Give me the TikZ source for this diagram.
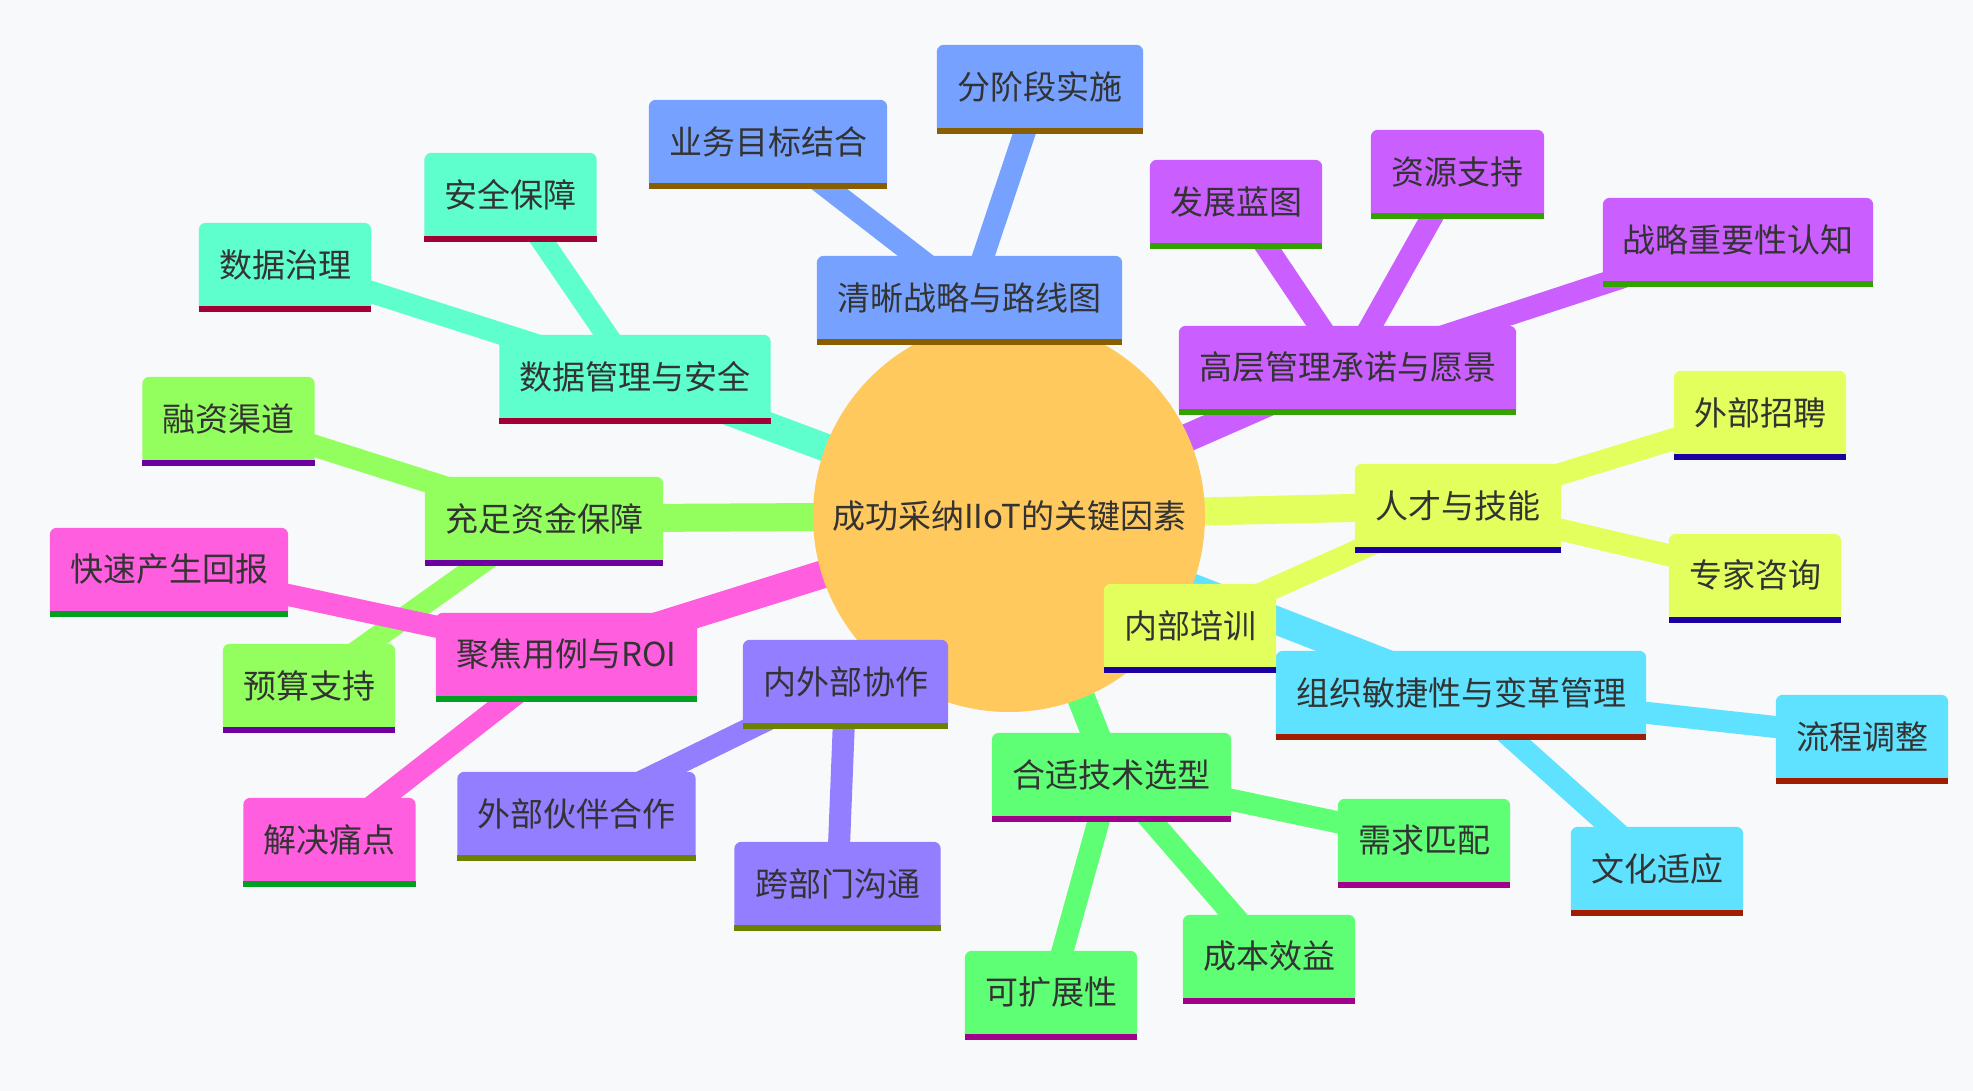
\documentclass[tikz,border=0pt]{standalone}
\usepackage{fontspec}
\setmainfont{Noto Sans CJK SC}
\usetikzlibrary{calc}
\definecolor{bgc}{HTML}{F8F9FA}
\definecolor{txt}{HTML}{333333}
\definecolor{rootF}{HTML}{FFC95E}
\definecolor{blueF}{HTML}{76A1FF}\definecolor{blueB}{HTML}{895E00}
\definecolor{purpF}{HTML}{CA5EFF}\definecolor{purpB}{HTML}{35A100}
\definecolor{yelF}{HTML}{E2FF5E}\definecolor{yelB}{HTML}{1D00A1}
\definecolor{cyanF}{HTML}{5EE2FF}\definecolor{cyanB}{HTML}{A11D00}
\definecolor{grnF}{HTML}{5EFF75}\definecolor{grnB}{HTML}{A1008A}
\definecolor{lavF}{HTML}{937EFF}\definecolor{lavB}{HTML}{6C8100}
\definecolor{pinkF}{HTML}{FF5EDF}\definecolor{pinkB}{HTML}{00A120}
\definecolor{limeF}{HTML}{93FF5E}\definecolor{limeB}{HTML}{6C00A1}
\definecolor{aquaF}{HTML}{5EFFCD}\definecolor{aquaB}{HTML}{A10032}
\pgfdeclarelayer{edgelayer}
\pgfdeclarelayer{boxlayer}
\pgfsetlayers{edgelayer,boxlayer,main}
\tikzset{
  mmtext/.style={rectangle, inner sep=0pt, minimum height=83pt, text=txt, font=\fontsize{33}{39}\selectfont},
  edgeA/.style={line width=28pt},
  edgeB/.style={line width=22pt},
}
\newcommand\mmNode[7]{%
  \node[mmtext, minimum width=#4pt] (#1) at (#2,#3+41.5) {#7};
  \begin{pgfonlayer}{boxlayer}
    \fill[#5] (#1.south west) [rounded corners=7pt] -- (#1.north west) -- (#1.north east) [sharp corners] -- (#1.south east) -- cycle;
    \fill[#6] (#1.south west) rectangle ([yshift=-6pt]#1.south east);
  \end{pgfonlayer}
}
\begin{document}
\begin{tikzpicture}[x=1pt,y=-1pt]
\useasboundingbox (0,0) rectangle (1973,1091);
\begin{pgfonlayer}{boxlayer}
\node[circle, fill=rootF, minimum size=392pt, inner sep=0pt, text=txt, font=\fontsize{33}{39}\selectfont] (root) at (1009,516) {成功采纳IIoT的关键因素};
\end{pgfonlayer}
% level 1
\mmNode{qx}{969.5}{256}{305}{blueF}{blueB}{清晰战略与路线图}
\mmNode{gc}{1347.5}{326}{337}{purpF}{purpB}{高层管理承诺与愿景}
\mmNode{rc}{1458}{464}{206}{yelF}{yelB}{人才与技能}
\mmNode{zz}{1461}{651}{370}{cyanF}{cyanB}{组织敏捷性与变革管理}
\mmNode{hs}{1111.5}{733}{239}{grnF}{grnB}{合适技术选型}
\mmNode{nw}{845.5}{640}{205}{lavF}{lavB}{内外部协作}
\mmNode{jj}{566.5}{613}{261}{pinkF}{pinkB}{聚焦用例与ROI}
\mmNode{cz}{544}{477}{238}{limeF}{limeB}{充足资金保障}
\mmNode{sj}{635}{335}{271}{aquaF}{aquaB}{数据管理与安全}
% level 2
\mmNode{yw}{768}{100}{238}{blueF}{blueB}{业务目标结合}
\mmNode{fj}{1040}{45}{206}{blueF}{blueB}{分阶段实施}
\mmNode{fz}{1236}{160}{172}{purpF}{purpB}{发展蓝图}
\mmNode{zy}{1457.5}{130}{173}{purpF}{purpB}{资源支持}
\mmNode{zl}{1738}{198}{270}{purpF}{purpB}{战略重要性认知}
\mmNode{wz}{1760}{371}{172}{yelF}{yelB}{外部招聘}
\mmNode{zj}{1755}{534}{172}{yelF}{yelB}{专家咨询}
\mmNode{nb}{1190}{584}{172}{yelF}{yelB}{内部培训}
\mmNode{lc}{1862}{695}{172}{cyanF}{cyanB}{流程调整}
\mmNode{wh}{1657}{827}{172}{cyanF}{cyanB}{文化适应}
\mmNode{xq}{1424}{799}{172}{grnF}{grnB}{需求匹配}
\mmNode{cb}{1269}{915}{172}{grnF}{grnB}{成本效益}
\mmNode{kk}{1051}{951}{172}{grnF}{grnB}{可扩展性}
\mmNode{wb}{576.5}{772}{238}{lavF}{lavB}{外部伙伴合作}
\mmNode{kb}{837.5}{842}{206}{lavF}{lavB}{跨部门沟通}
\mmNode{ks}{169}{528}{238}{pinkF}{pinkB}{快速产生回报}
\mmNode{jt}{329.5}{798}{172}{pinkF}{pinkB}{解决痛点}
\mmNode{ys}{309}{644}{172}{limeF}{limeB}{预算支持}
\mmNode{rq}{228.5}{377}{172}{limeF}{limeB}{融资渠道}
\mmNode{sz}{285}{223}{172}{aquaF}{aquaB}{数据治理}
\mmNode{aq}{510.5}{153}{172}{aquaF}{aquaB}{安全保障}
\begin{pgfonlayer}{edgelayer}
\fill[bgc] (0,0) rectangle (1973,1091);
% level 1 edges
\draw[edgeA, blueF] (root.center) -- (qx.center);
\draw[edgeA, purpF] (root.center) -- (gc.center);
\draw[edgeA, yelF] (root.center) -- (rc.center);
\draw[edgeA, cyanF] (root.center) -- (zz.center);
\draw[edgeA, grnF] (root.center) -- (hs.center);
\draw[edgeA, lavF] (root.center) -- (nw.center);
\draw[edgeA, pinkF] (root.center) -- (jj.center);
\draw[edgeA, limeF] (root.center) -- (cz.center);
\draw[edgeA, aquaF] (root.center) -- (sj.center);
% level 2 edges
\draw[edgeB, blueF] (qx.center) -- (yw.center);
\draw[edgeB, blueF] (qx.center) -- (fj.center);
\draw[edgeB, purpF] (gc.center) -- (fz.center);
\draw[edgeB, purpF] (gc.center) -- (zy.center);
\draw[edgeB, purpF] (gc.center) -- (zl.center);
\draw[edgeB, cyanF] (zz.center) -- (lc.center);
\draw[edgeB, cyanF] (zz.center) -- (wh.center);
\draw[edgeB, yelF] (rc.center) -- (wz.center);
\draw[edgeB, yelF] (rc.center) -- (zj.center);
\draw[edgeB, yelF] (rc.center) -- (nb.center);
\draw[edgeB, grnF] (hs.center) -- (xq.center);
\draw[edgeB, grnF] (hs.center) -- (cb.center);
\draw[edgeB, grnF] (hs.center) -- (kk.center);
\draw[edgeB, lavF] (nw.center) -- (wb.center);
\draw[edgeB, lavF] (nw.center) -- (kb.center);
\draw[edgeB, limeF] (cz.center) -- (ys.center);
\draw[edgeB, limeF] (cz.center) -- (rq.center);
\draw[edgeB, pinkF] (jj.center) -- (ks.center);
\draw[edgeB, pinkF] (jj.center) -- (jt.center);
\draw[edgeB, aquaF] (sj.center) -- (sz.center);
\draw[edgeB, aquaF] (sj.center) -- (aq.center);
\end{pgfonlayer}
\end{tikzpicture}
\end{document}
